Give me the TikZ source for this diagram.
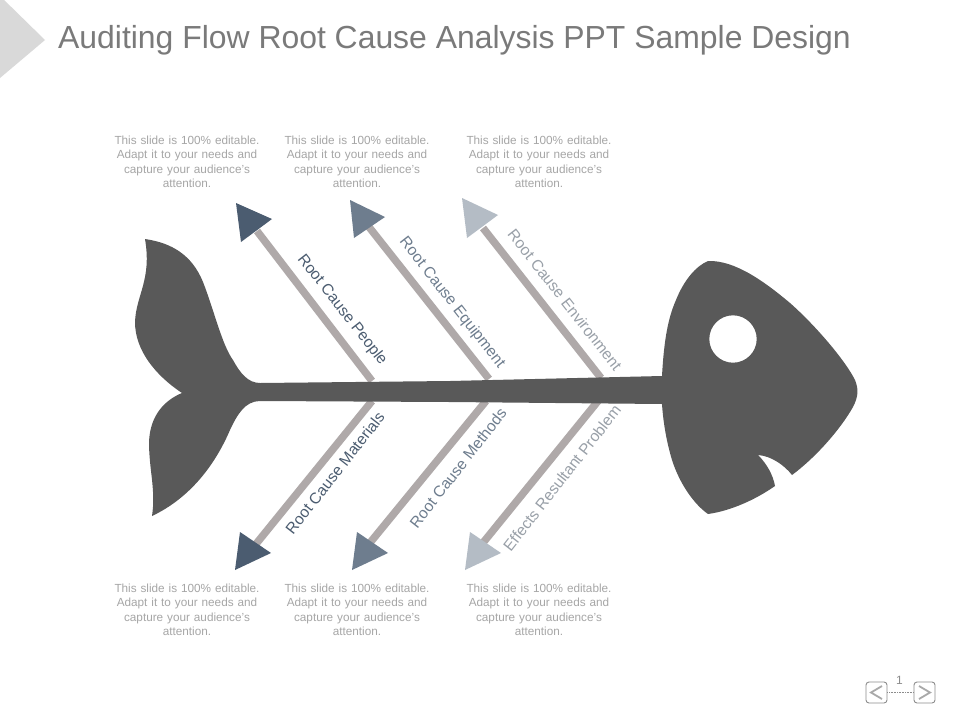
\documentclass[tikz,border=0pt]{standalone}
\usepackage{fontspec}
\setmainfont{Liberation Sans}
\definecolor{fish}{HTML}{595959}
\definecolor{bone}{HTML}{AFA9A9}
\definecolor{cA}{HTML}{4B5C70}
\definecolor{cB}{HTML}{6E7D8E}
\definecolor{cC}{HTML}{B4BCC5}
\definecolor{bodytxt}{HTML}{A6A6A6}
\definecolor{titletxt}{HTML}{7A7A7A}
\definecolor{navc}{HTML}{8C8C8C}
\tikzset{
  bonestyle/.style={draw=bone,line width=7.5pt},
  bodynote/.style={font=\fontsize{11.75}{14.5}\selectfont,text=bodytxt,align=center,inner sep=0pt,text width=160pt},
  lab/.style={font=\fontsize{15.6}{18}\selectfont,inner sep=0pt,anchor=center},
  navbox/.style={draw=navc,line width=0.9pt,rounded corners=3pt,fill=white,minimum width=21pt,minimum height=21pt,inner sep=0pt},
  navarrow/.style={draw=navc!75,line width=1.8pt}
}
\begin{document}
\begin{tikzpicture}[x=1pt,y=-1pt]
\useasboundingbox (0,0) rectangle (960,720);
\fill[white] (0,0) rectangle (960,720);
% corner marker and title
\fill[black!15] (0,-4) -- (45,40) -- (0,78) -- cycle;
\node[anchor=west,inner sep=0pt,text=titletxt,font=\fontsize{31.9}{36}\selectfont] (title) at (58,40) {Auditing Flow Root Cause Analysis PPT Sample Design};
% bone end points
\coordinate (a1) at (372,381); \coordinate (t1) at (257,231);
\coordinate (a2) at (489,379); \coordinate (t2) at (369,227);
\coordinate (a3) at (601,378); \coordinate (t3) at (483,228);
\coordinate (b1) at (372,401); \coordinate (u1) at (256,544);
\coordinate (b2) at (486,401); \coordinate (u2) at (369,544);
\coordinate (b3) at (598,401); \coordinate (u3) at (482,544);
\draw[bonestyle] (a1) -- (t1);
\draw[bonestyle] (a2) -- (t2);
\draw[bonestyle] (a3) -- (t3);
\draw[bonestyle] (b1) -- (u1);
\draw[bonestyle] (b2) -- (u2);
\draw[bonestyle] (b3) -- (u3);
% arrow heads
\fill[cA] (236,203) -- (272,219) -- (241,242) -- cycle;
\fill[cB] (350,200) -- (385,217) -- (354,238) -- cycle;
\fill[cC] (462,198) -- (498,215) -- (467,238) -- cycle;
\fill[cA] (240,532) -- (271,553) -- (235,570) -- cycle;
\fill[cB] (357,532) -- (388,553) -- (352,570) -- cycle;
\fill[cC] (470,532) -- (501,553) -- (465,570) -- cycle;
% fish
\fill[fish,even odd rule]
  (145,239) .. controls (172,243) and (192,255) .. (203,282)
  .. controls (214,310) and (222,345) .. (233,360)
  .. controls (240,373) and (248,383) .. (260,383)
  -- (450,381) -- (662,376)
  .. controls (664,340) and (668,318) .. (676,300)
  .. controls (684,280) and (696,266) .. (708,261)
  .. controls (735,260) and (765,282) .. (790,303)
  .. controls (815,325) and (845,360) .. (855,380)
  .. controls (859,390) and (858,397) .. (853,407)
  .. controls (840,430) and (815,458) .. (792,475)
  .. controls (785,466) and (772,456) .. (758,455)
  .. controls (767,464) and (773,475) .. (775,486)
  .. controls (755,500) and (730,511) .. (708,514)
  .. controls (695,505) and (680,485) .. (672,460)
  .. controls (666,440) and (663,420) .. (662,404)
  -- (450,402) -- (260,401)
  .. controls (245,401) and (237,415) .. (230,430)
  .. controls (215,465) and (190,498) .. (152,516)
  .. controls (156,490) and (149,470) .. (149,442)
  .. controls (150,415) and (165,400) .. (182,393)
  .. controls (155,375) and (135,350) .. (135,322)
  .. controls (136,295) and (152,280) .. (145,239)
  -- cycle
  (756.7,339) arc[start angle=0,end angle=360,radius=23.7];
% branch labels
\node[lab,text=cA,rotate=-52] (lp) at (342,310) {Root Cause People};
\node[lab,text=cB,rotate=-52] (le) at (452,303) {Root Cause Equipment};
\node[lab,text=cC!85!black,rotate=-52] (lv) at (565,300) {Root Cause Environment};
\node[lab,text=cA,rotate=52] (lm) at (335,473) {Root Cause Materials};
\node[lab,text=cB,rotate=52] (lh) at (458,468) {Root Cause Methods};
\node[lab,text=cC!85!black,rotate=52] (lr) at (562,478) {Effects Resultant Problem};
% notes
\newcommand{\notetext}{This slide is 100\% editable.\\Adapt it to your needs and\\capture your audience's\\attention.}
\node[bodynote] (n1) at (187,162) {\notetext};
\node[bodynote] (n2) at (357,162) {\notetext};
\node[bodynote] (n3) at (539,162) {\notetext};
\node[bodynote] (n4) at (187,610) {\notetext};
\node[bodynote] (n5) at (357,610) {\notetext};
\node[bodynote] (n6) at (539,610) {\notetext};
% navigation
\node[navbox] (prev) at (876.5,692.5) {};
\node[navbox] (next) at (924.5,692.5) {};
\draw[navc,densely dotted,line width=0.6pt] (prev) -- (next);
\draw[navarrow] (882,686) -- (871,692.5) -- (882,699);
\draw[navarrow] (919,686) -- (930,692.5) -- (919,699);
\node[inner sep=0pt,text=navc,font=\fontsize{12}{14}\selectfont] (pg) at (899.5,680) {1};
\end{tikzpicture}
\end{document}
